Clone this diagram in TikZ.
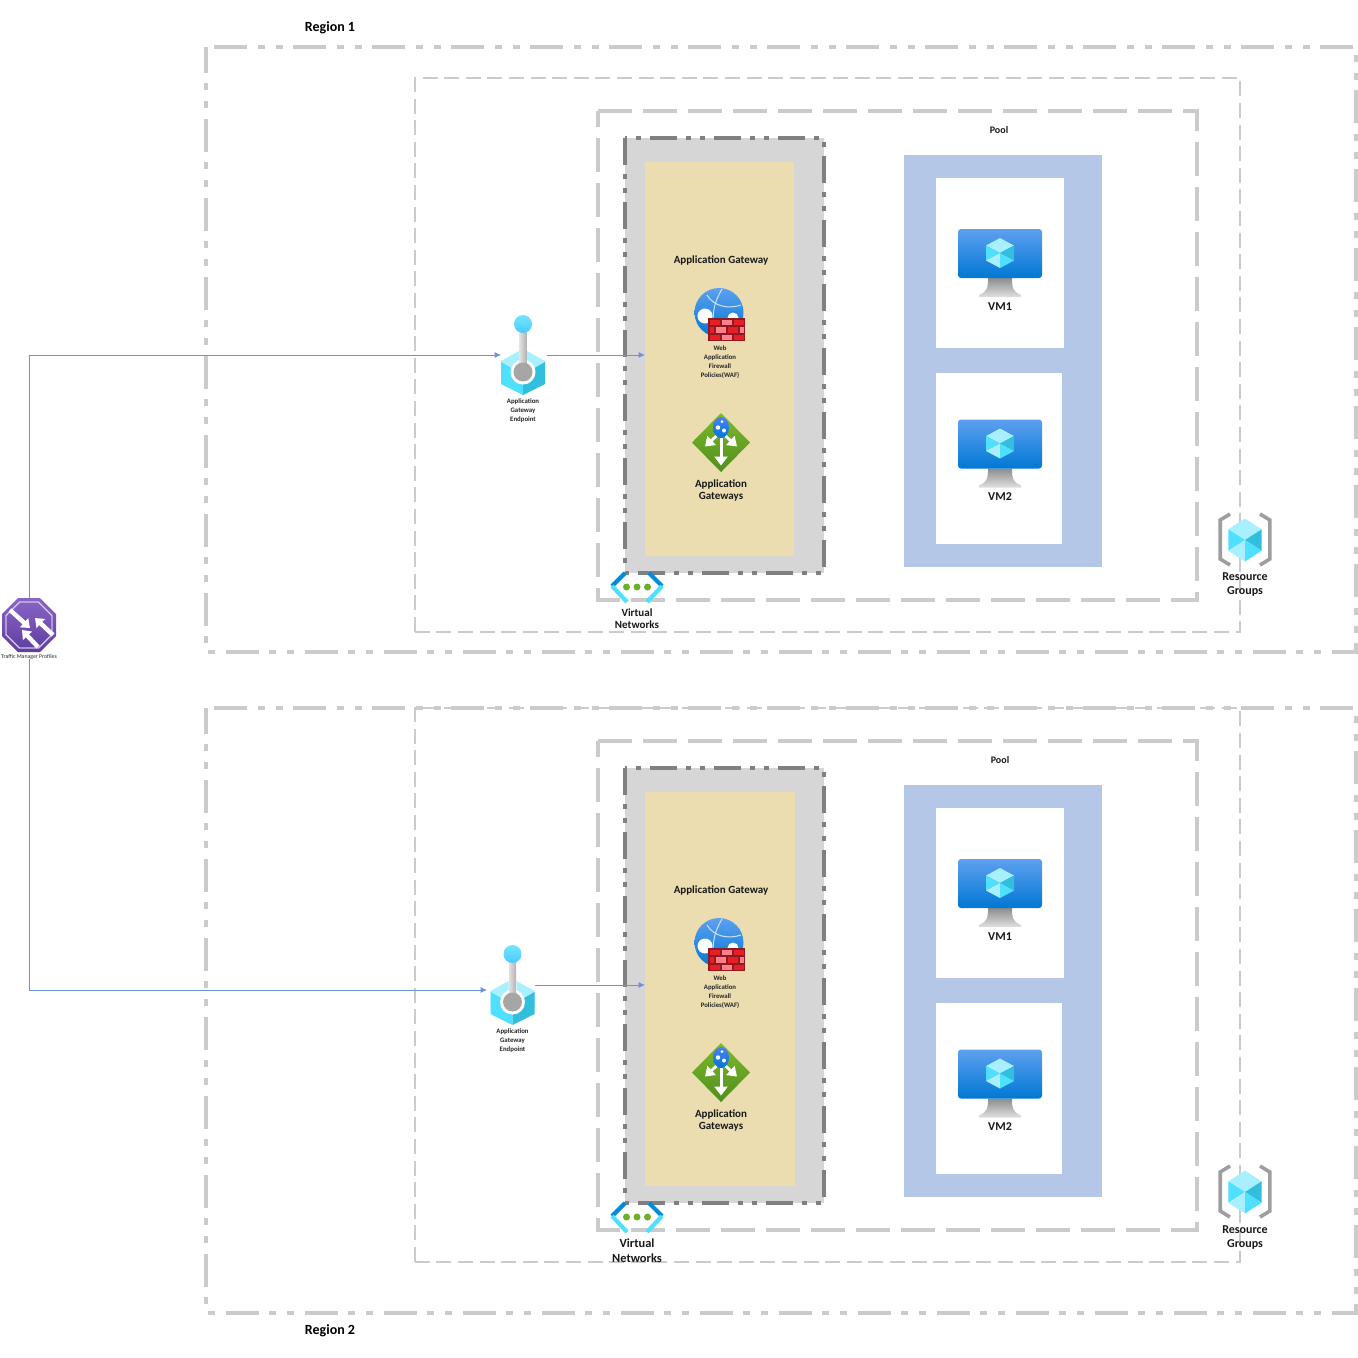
\documentclass[tikz,border=0pt]{standalone}
\usepackage{fontspec}
\setmainfont{Carlito}
\usetikzlibrary{arrows.meta}
\definecolor{frameg}{HTML}{CBCBCB}
\definecolor{vnetg}{HTML}{D6D6D6}
\definecolor{vnetd}{HTML}{808080}
\definecolor{sand}{HTML}{EBDDB0}
\definecolor{poolb}{HTML}{B4C7E7}
\definecolor{conn}{HTML}{6E92D6}
\definecolor{cyanA}{HTML}{A8F0FF}
\definecolor{cyanB}{HTML}{50E0FF}
\definecolor{cyanC}{HTML}{32BEDD}
\definecolor{HTMLtop}{HTML}{5EA0EF}
\definecolor{HTMLbot}{HTML}{0078D4}
\definecolor{brickbg}{HTML}{8E1A22}
\definecolor{brickred}{HTML}{E81E25}
\definecolor{brickpink}{HTML}{FF7F8A}
\definecolor{gwtop}{HTML}{7DBB2C}
\definecolor{gwbot}{HTML}{4F8E1C}
\definecolor{tmtopc}{HTML}{8A64C8}
\definecolor{tmbotc}{HTML}{5E3D9E}
\definecolor{dotg}{HTML}{6CB02A}
\tikzset{
  x=0.5pt,y=-0.5pt,
  regionframe/.style={draw=frameg,line width=1.6pt,dash pattern=on 16.5pt off 5.5pt on 3.5pt off 5.5pt on 3.5pt off 5pt},
  subframe/.style={draw=frameg,line width=0.85pt,dash pattern=on 7.5pt off 3.3pt},
  poolframe/.style={draw=frameg,line width=1.6pt,dash pattern=on 17pt off 5.5pt},
  vnetframe/.style={fill=vnetg,draw=vnetd,line width=1.7pt,dash pattern=on 13.5pt off 4.5pt on 2.5pt off 4.5pt on 2.5pt off 4.5pt},
  link/.style={draw=conn,line width=0.42pt},
  linkarrow/.style={link,-{Latex[length=3.2pt,width=3pt]}},
  lab/.style={font=\fontsize{5.5}{6}\selectfont\bfseries,align=center,inner sep=0pt,text=black!90},
  region/.style={font=\fontsize{7}{8}\selectfont\bfseries,inner sep=0pt,text=black},
  tiny/.style={font=\fontsize{3.4}{4.5}\selectfont\bfseries,align=center,inner sep=0pt,text=black!85},
  whitearrow/.style={draw=white,line width=#1,-{Triangle[length=5pt,width=7pt]}},
}
\newcommand\mycube[3]{%
\begin{scope}[shift={(#1,#2)},scale=#3]
\fill[cyanA] (0,-15)--(14,-7.5)--(0,0)--(-14,-7.5)--cycle;
\fill[cyanB] (-14,-7.5)--(0,0)--(-14,7.5)--cycle;
\fill[cyanA] (-14,7.5)--(0,0)--(0,15)--cycle;
\fill[cyanC] (14,-7.5)--(0,0)--(14,7.5)--cycle;
\fill[cyanB] (14,7.5)--(0,0)--(0,15)--cycle;
\end{scope}}
\newcommand\myvm[2]{%
\begin{scope}[shift={(#1,#2)}]
\shade[top color=black!45,bottom color=black!12] (-12,23) .. controls (-12,32) and (-12,36) .. (-21,40) -- (-21,42) -- (21,42) -- (21,40) .. controls (12,36) and (12,32) .. (12,23) -- cycle;
\shade[rounded corners=1.5pt,top color=HTMLtop,bottom color=HTMLbot] (-42,-26) rectangle (42,23);
\mycube{0}{-2}{1}
\end{scope}}
\newcommand\myrg[2]{%
\begin{scope}[shift={(#1,#2)}]
\draw[black!38,line width=1.8pt,line join=miter] (-15,-26)--(-24.8,-20)--(-24.8,19)--(-15,25);
\draw[black!38,line width=1.8pt,line join=miter] (15,-26)--(24.8,-20)--(24.8,19)--(15,25);
\begin{scope}[xscale=0.83]
\mycube{0}{0}{1.43}
\end{scope}
\end{scope}}
\newcommand\myvnet[2]{%
\begin{scope}[shift={(#1,#2)}]
\draw[HTMLbot!85!cyan,line width=2.1pt] (-12,-14)--(-25,-1);
\draw[HTMLbot!85!cyan,line width=2.1pt] (12,-14)--(25,-1);
\draw[cyanB,line width=2.1pt] (-25,-1)--(-10,15);
\draw[cyanB,line width=2.1pt] (25,-1)--(10,15);
\foreach \xx in {-10.5,0,10.5} \fill[dotg] (\xx,0) circle (3.5);
\end{scope}}
\newcommand\myendpoint[2]{%
\begin{scope}[shift={(#1,#2)}]
\fill[cyanA] (-22,-11)--(-4,-21)--(-4,5)--(-22,5)--cycle;
\fill[cyanA] (22,-11)--(4,-21)--(4,5)--(22,5)--cycle;
\fill[cyanB] (-22,-10)--(-8,-2)--(0,5)--(0,23)--(-22,12)--cycle;
\fill[cyanC] (22,-10)--(8,-2)--(0,5)--(0,23)--(22,12)--cycle;
\fill[white] (0,0) circle (12.5);
\shade[left color=black!12,right color=black!30] (-3.5,-40) rectangle (3.5,-2);
\fill[black!35] (0,0) circle (9.5);
\shade[top color=cyanB!80!white,bottom color=cyanB!90!blue] (0,-48) circle (9);
\end{scope}}
\newcommand\mywaf[2]{%
\begin{scope}[shift={(#1,#2)}]
\shade[top color=HTMLtop,bottom color=HTMLbot] (0,-0.5) circle (24.5);
\fill[white] (-14,3) circle (7.5);
\fill[white] (14,5) circle (5.5);
\draw[white!70!HTMLtop,line width=0.5pt] (-12,-18) .. controls (-5,-6) and (10,-4) .. (22,-8);
\draw[white!70!HTMLtop,line width=0.5pt] (3,-24) .. controls (-4,-12) and (-6,-4) .. (-6,10);
\fill[brickbg] (-11,5) rectangle (26,28);
\foreach \xa/\ya/\xb/\yb/\cc in {-9.5/6.5/1/12/brickred,2.5/6.5/13/12/brickpink,14.5/6.5/24.5/12/brickred,
 -9.5/14/-5/19.5/brickred,-3.5/14/7/19.5/brickpink,8.5/14/19/19.5/brickred,20.5/14/24.5/19.5/brickpink,
 -9.5/21.5/1/26.5/brickred,2.5/21.5/13/26.5/brickpink,14.5/21.5/24.5/26.5/brickred}
 \fill[\cc] (\xa,\ya) rectangle (\xb,\yb);
\end{scope}}
\newcommand\mygw[2]{%
\begin{scope}[shift={(#1,#2)}]
\shade[top color=gwtop,bottom color=gwbot] (0,-29.5)--(29,0)--(0,29.5)--(-29,0)--cycle;
\draw[draw=white,line width=1.5pt,-{Triangle[length=4.5pt,width=6.5pt]}] (0,-5)--(0,23);
\draw[draw=white,line width=1.4pt,-{Triangle[length=4.5pt,width=6pt]}] (-3,-8)--(-16,4);
\draw[draw=white,line width=1.4pt,-{Triangle[length=4.5pt,width=6pt]}] (3,-8)--(16,4);
\shade[top color=HTMLtop!80!blue,bottom color=HTMLbot] (0,-15) ellipse (8 and 10.5);
\fill[white] (-3,-15) circle (2.2);
\fill[white] (3,-12) circle (2);
\fill[white] (1,-21) circle (1.5);
\end{scope}}
\begin{document}
\begin{tikzpicture}
\useasboundingbox (0,0) rectangle (1358,1357);
\fill[white] (0,0) rectangle (1358,1357);
\draw[regionframe] (214,47)--(1356,47)--(1356,652)--(206,652)--(206,47);
\draw[regionframe] (214,708)--(1356,708)--(1356,1313)--(206,1313)--(206,708);
\node[region] (r1) at (330,27.5) {Region 1};
\node[region] (r2) at (330,1330.5) {Region 2};
\draw[subframe] (415,632)--(415,78)--(1240,78)--(1240,632)--cycle;
\draw[subframe] (415,1262)--(415,708)--(1240,708)--(1240,1262)--cycle;
\foreach \dy in {0,630}{
\draw[poolframe] (598,{111+\dy})--(1197,{111+\dy})--(1197,{600+\dy})--(598,{600+\dy})--cycle;
\draw[vnetframe] (625,{138+\dy}) rectangle (824,{573+\dy});
\fill[poolb] (904,{155+\dy}) rectangle (1102,{567+\dy});
\fill[white] (936,{178+\dy}) rectangle (1064,{348+\dy});
\fill[white] (936,{373+\dy}) rectangle (1062,{544+\dy});
}
\node[fill=sand,draw=none,outer sep=0pt,inner sep=0pt,minimum width=74.5pt,minimum height=197pt] (agw1) at (719.5,359) {};
\node[fill=sand,draw=none,outer sep=0pt,inner sep=0pt,minimum width=75pt,minimum height=197pt] (agw2) at (720,989) {};
\node[tiny,font=\fontsize{2.9}{3}\selectfont] (tmlab) at (29,656.5) {Traffic Manager Profiles};
\coordinate (ep1in) at (501,355);
\coordinate (ep1out) at (547,355);
\coordinate (ep2in) at (487,990);
\coordinate (ep2out) at (535,985);
\coordinate (tmtop) at (29,598);
\draw[linkarrow] (tmtop) |- (ep1in);
\draw[linkarrow] (tmlab.south) |- (ep2in);
\draw[linkarrow] (ep1out) -- (ep1out -| agw1.west);
\draw[linkarrow] (ep2out) -- (ep2out -| agw2.west);
\begin{scope}[shift={(29,625)}]
\shade[top color=tmtopc,bottom color=tmbotc] (-11,-27)--(11,-27)--(27,-11)--(27,11)--(11,27)--(-11,27)--(-27,11)--(-27,-11)--cycle;
\draw[white!60!tmtopc,line width=.7pt] (-9.5,-23)--(9.5,-23)--(23,-9.5)--(23,9.5)--(9.5,23)--(-9.5,23)--(-23,9.5)--(-23,-9.5)--cycle;
\draw[draw=white,line width=2.2pt,-{Triangle[length=4pt,width=6pt]}] (-19,-15)--(1,3);
\draw[draw=white,line width=2.2pt,-{Triangle[length=4pt,width=6pt]}] (24,10)--(6,-7);
\draw[draw=white,line width=2.2pt,-{Triangle[length=4pt,width=6pt]}] (9,22)--(-7,5);
\end{scope}
\myendpoint{523}{372}
\myendpoint{512.5}{1002}
\node[tiny] (ep1lab) at (523,411) {Application\\Gateway\\Endpoint};
\node[tiny] (ep2lab) at (512.5,1041) {Application\\Gateway\\Endpoint};
\node[lab,font=\fontsize{5}{6}\selectfont\bfseries] (pool1) at (999,130.5) {Pool};
\node[lab,font=\fontsize{5}{6}\selectfont\bfseries] (pool2) at (1000,760.5) {Pool};
\foreach \dy/\nn in {0/1,630/2}{
\node[lab] (agwt\nn) at (721,{260+\dy}) {Application Gateway};
\mywaf{719}{{313+\dy}}
\node[tiny] (wafl\nn) at (720,{362.5+\dy}) {Web\\Application\\Firewall\\Policies(WAF)};
\mygw{721}{{442.5+\dy}}
\node[lab] (gwl\nn) at (721,{490.5+\dy}) {Application\\Gateways};
\myvm{1000}{{255+\dy}}
\node[lab,font=\fontsize{6}{7}\selectfont\bfseries] (vm1l\nn) at (1000,{306.5+\dy}) {VM1};
\myvm{1000}{{445.5+\dy}}
\node[lab,font=\fontsize{6}{7}\selectfont\bfseries] (vm2l\nn) at (1000,{496.5+\dy}) {VM2};
\myvnet{637}{{587+\dy}}
}
\node[lab] (vnl1) at (637,618.5) {Virtual\\Networks};
\node[lab,font=\fontsize{6.2}{7.5}\selectfont\bfseries] (vnl2) at (637,1250.5) {Virtual\\Networks};
\myrg{1245}{540}
\myrg{1245}{1192}
\node[lab,font=\fontsize{6}{7}\selectfont\bfseries] (rgl1) at (1245,584.5) {Resource\\Groups};
\node[lab,font=\fontsize{6}{7}\selectfont\bfseries] (rgl2) at (1245,1237.5) {Resource\\Groups};
\end{tikzpicture}
\end{document}
